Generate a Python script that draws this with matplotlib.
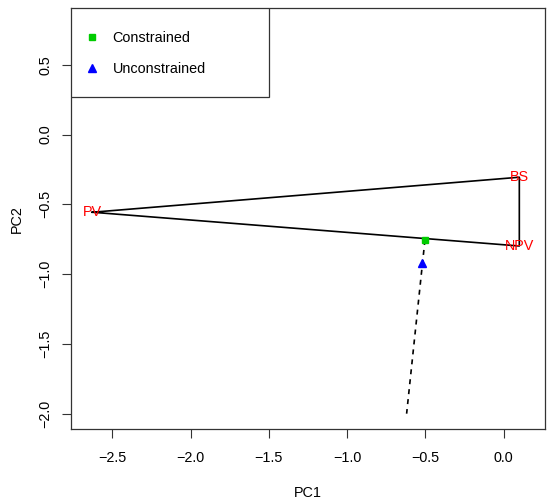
import numpy as np
import matplotlib
matplotlib.use('Agg')
import matplotlib.pyplot as plt
from matplotlib.patches import Rectangle
from matplotlib.lines import Line2D

plt.rcParams['font.family'] = ['Liberation Sans', 'DejaVu Sans']
plt.rcParams['font.size'] = 10.4

# Vertices of the triangle (PC scores of the three criteria)
labels = ['PV', 'BS', 'NPV']
pc1 = [-2.628, 0.100, 0.100]
pc2 = [-0.556, -0.305, -0.798]

# Solutions
constrained = [-0.503, -0.755]
unconstrained = [-0.520, -0.918]
# End of the dashed direction line
dash_end = [-0.620, -2.0]

x_ticks = [-2.5, -2.0, -1.5, -1.0, -0.5, 0.0]
y_ticks = [0.5, 0.0, -0.5, -1.0, -1.5, -2.0]

fig = plt.figure(figsize=(5.5, 5.03), dpi=100)
ax = fig.add_axes([0.1291, 0.1471, 0.9909 - 0.1291, 0.9835 - 0.1471])

# triangle PV - BS - NPV - PV
tx = pc1 + [pc1[0]]
ty = pc2 + [pc2[0]]
ax.plot(tx, ty, color='black', lw=1.2, zorder=2)

# dashed line from constrained point downwards
ax.plot([constrained[0], dash_end[0]], [constrained[1], dash_end[1]],
        color='black', lw=1.2, linestyle=(0, (3, 3)), zorder=2)

ax.plot(constrained[0], constrained[1], marker='s', color='#00CC00',
        markersize=4.6, linestyle='none', zorder=4)
ax.plot(unconstrained[0], unconstrained[1], marker='^', color='#0000FF',
        markersize=5.6, linestyle='none', zorder=4)

for lab, x, y in zip(labels, pc1, pc2):
    ax.text(x, y, lab, color='#FF0000', ha='center', va='center', zorder=5)

ax.set_xlim(-2.764, 0.264)
ax.set_ylim(-2.110, 0.906)
ax.set_xticks(x_ticks)
ax.set_xticklabels(['\u22122.5', '\u22122.0', '\u22121.5', '\u22121.0', '\u22120.5', '0.0'])
ax.set_yticks(y_ticks)
ax.set_yticklabels(['0.5', '0.0', '\u22120.5', '\u22121.0', '\u22121.5', '\u22122.0'],
                   rotation=90, va='center')
ax.tick_params(direction='out', length=6.5, width=0.8, color='#333333')
ax.tick_params(axis='x', pad=9.5)
ax.tick_params(axis='y', pad=7)
for sp in ax.spines.values():
    sp.set_linewidth(0.9)
    sp.set_color('#333333')

ax.set_xlabel('PC1', labelpad=15)
ax.set_ylabel('PC2', labelpad=10.5)

# legend box
ax.add_patch(Rectangle((0, 1 - 0.2116), 0.4184, 0.2116, transform=ax.transAxes,
                       facecolor='white', edgecolor='#333333', lw=0.9, zorder=6))
handles = [Line2D([], [], marker='s', color='#00CC00', linestyle='none', markersize=4.6),
           Line2D([], [], marker='^', color='#0000FF', linestyle='none', markersize=5.6)]
leg = ax.legend(handles, ['Constrained', 'Unconstrained'], loc='upper left',
                bbox_to_anchor=(0.0285, 0.945), borderpad=0, borderaxespad=0,
                handlelength=1.0, handletextpad=0.95, labelspacing=1.18,
                frameon=False, numpoints=1)
leg.set_zorder(7)

fig.savefig('out.png', dpi=100)
